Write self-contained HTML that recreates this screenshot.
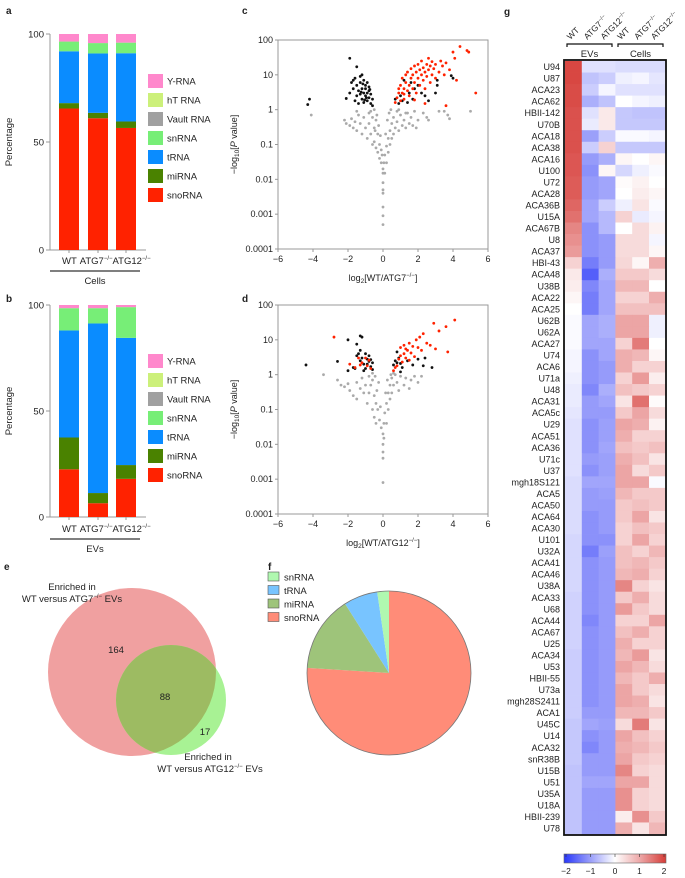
<!DOCTYPE html>
<html><head><meta charset="utf-8">
<style>
body{margin:0;background:#fff;width:685px;height:878px;overflow:hidden}
svg{display:block;font-family:"Liberation Sans",sans-serif}
text{fill:#222}
</style></head>
<body>
<svg id="fig" width="685" height="878" viewBox="0 0 685 878" xmlns="http://www.w3.org/2000/svg">
<g font-weight="bold" font-size="10">
<text x="6" y="14">a</text>
<text x="6" y="302">b</text>
<text x="242" y="14">c</text>
<text x="242" y="302">d</text>
<text x="4" y="570">e</text>
<text x="268" y="570">f</text>
<text x="504" y="15">g</text>
</g>
</svg>
<script>
const svg=document.getElementById('fig');
const NS='http://www.w3.org/2000/svg';
function mk(tag,attrs,parent,txt){const e=document.createElementNS(NS,tag);for(const k in attrs)e.setAttribute(k,attrs[k]);if(txt!==undefined)e.textContent=txt;(parent||svg).appendChild(e);return e;}

/* ---------- Stacked bars (a, b) ---------- */
const barCategories=['WT','ATG7','ATG12'];
const rnaTypes=['snoRNA','miRNA','tRNA','snRNA','Vault RNA','hT RNA','Y-RNA'];
const rnaColors=['#ff2200','#4a8200','#0a8cff','#77ee77','#a0a0a0','#ccf07a','#ff88cc'];
const cellsSnoRNA=[65.5,61,56.5];
const cellsMiRNA=[2.5,2.5,3];
const cellsTRNA=[24,27.5,31.6];
const cellsSnRNA=[4.5,4.8,4.9];
const cellsVault=[0,0,0];
const cellsHT=[0,0,0];
const cellsY=[3.5,4.2,4];
const evsSnoRNA=[22.5,6.5,18];
const evsMiRNA=[15,4.8,6.5];
const evsTRNA=[50.5,80,60];
const evsSnRNA=[10.5,7.2,14.5];
const evsVault=[0,0,0];
const evsHT=[0,0,0];
const evsY=[1.5,1.5,1];
const pctTicks=[0,50,100];

function barPanel(id,top,bottom,series,groupLabel,legTop,xlabY){
  const g=mk('g',{});
  
  
  const y=v=>bottom-(v/100)*(bottom-top);
  const xs=[59,88,116];
  mk('line',{x1:50,y1:top,x2:50,y2:bottom,stroke:'#999'},g);
  mk('line',{x1:50,y1:bottom,x2:146,y2:bottom,stroke:'#999'},g);
  pctTicks.forEach(t=>{
    mk('line',{x1:46,y1:y(t),x2:50,y2:y(t),stroke:'#999'},g);
    const tl=mk('text',{x:44,y:y(t)+3.5,'font-size':9.5,'text-anchor':'end'},g,String(t));
    
    
  });
  const yt=mk('text',{x:0,y:0,'font-size':9.5,'text-anchor':'middle',transform:`translate(12,${(top+bottom)/2}) rotate(-90)`},g,'Percentage');
  
  
  barCategories.forEach((c,i)=>{
    let cum=0;
    series.forEach((s,k)=>{
      const v=s[i];
      if(v>0){
        const r=mk('rect',{x:xs[i],y:y(cum+v),width:20,height:y(cum)-y(cum+v),fill:rnaColors[k]},g);
        
        
      }
      cum+=v;
    });
    mk('line',{x1:xs[i]+10,y1:bottom,x2:xs[i]+10,y2:bottom+3,stroke:'#999'},g);
  });
  const xl=mk('text',{x:62,y:xlabY,'font-size':9.5},g);
  
  
  xl.innerHTML='WT <tspan dx="1">ATG7</tspan><tspan font-size="6" dy="-4">−/−</tspan><tspan dy="4">ATG12</tspan><tspan font-size="6" dy="-4">−/−</tspan>';
  mk('line',{x1:50,y1:xlabY+7,x2:140,y2:xlabY+7,stroke:'#333','stroke-width':1.2},g);
  const gl=mk('text',{x:95,y:xlabY+20,'font-size':9.5,'text-anchor':'middle'},g,groupLabel);
  
  
  for(let k=6;k>=0;k--){
    const ly=legTop+(6-k)*19;
    const sq=mk('rect',{x:148,y:ly-7,width:15,height:14,fill:rnaColors[k]},g);
    
    
    const lt=mk('text',{x:167,y:ly+3.5,'font-size':9.5},g,rnaTypes[k]);
    
    
  }
}
barPanel('cells',34,250,[cellsSnoRNA,cellsMiRNA,cellsTRNA,cellsSnRNA,cellsVault,cellsHT,cellsY],'Cells',81,264);
barPanel('evs',305,517,[evsSnoRNA,evsMiRNA,evsTRNA,evsSnRNA,evsVault,evsHT,evsY],'EVs',361,532);

/* ---------- Volcano plots (c, d) ---------- */
const volcanoXTicks=[-6,-4,-2,0,2,4,6];
const volcanoYTicks=[0.0001,0.001,0.01,0.1,1,10,100];
const volcanoYTickLabels=['0.0001','0.001','0.01','0.1','1','10','100'];
const cGray=[[-4.1,0.7],[-2.2,0.5],[-2.1,0.4],[-1.9,0.35],[-1.8,0.55],[-1.7,0.3],[-1.6,0.45],[-1.5,0.25],[-1.4,0.7],[-1.3,0.4],[-1.2,0.2],[-1.1,0.6],[-1.0,0.3],[-0.9,0.15],[-0.8,0.8],[-0.8,0.4],[-0.7,0.2],[-0.6,0.1],[-0.6,0.6],[-0.5,0.3],[-0.5,0.12],[-0.4,0.08],[-0.4,0.5],[-0.3,0.2],[-0.3,0.06],[-0.2,0.1],[-0.2,0.04],[-0.1,0.07],[-0.1,0.03],[0,0.02],[0,0.015],[0,0.008],[0,0.005],[0,0.004],[0,0.0016],[0,0.0009],[0,0.0005],[0.05,0.03],[0.1,0.05],[0.1,0.015],[0.2,0.09],[0.2,0.03],[0.3,0.15],[0.3,0.06],[0.4,0.25],[0.4,0.1],[0.5,0.4],[0.5,0.15],[0.6,0.6],[0.6,0.2],[0.7,0.3],[0.8,0.9],[0.8,0.45],[0.9,0.25],[1.0,0.7],[1.1,0.35],[1.2,0.5],[1.3,0.3],[1.4,0.8],[1.5,0.4],[1.6,0.6],[1.7,0.35],[1.8,0.9],[1.9,0.3],[2.0,0.5],[2.3,0.8],[2.5,0.6],[2.6,0.5],[3.2,0.9],[3.5,0.9],[3.7,0.7],[3.8,0.55],[5.0,0.9],[-0.7,0.9],[-0.5,1.0],[-1.5,0.9],[0.9,1.0],[1.3,0.8],[-0.35,0.7],[-0.25,0.35],[0.15,0.2],[0.25,0.5],[-0.15,0.18],[-0.05,0.05],[0.35,0.8],[-0.45,0.25],[0.45,1.0]];
const cBlack=[[-4.3,1.4],[-4.2,2.0],[-1.9,30],[-1.5,17],[-2.1,2.1],[-1.9,3],[-1.8,6],[-1.7,4],[-1.6,8],[-1.5,2.5],[-1.5,5],[-1.4,3.5],[-1.4,1.5],[-1.3,9],[-1.3,6],[-1.2,4],[-1.2,2],[-1.1,7],[-1.1,3],[-1.1,1.6],[-1.0,5],[-1.0,2.5],[-1.0,4],[-0.9,3],[-0.9,1.8],[-0.9,6],[-0.8,2.2],[-0.8,3.5],[-0.7,1.5],[-0.7,2.8],[-0.6,2],[-0.6,1.3],[-1.6,1.8],[-1.7,7],[-1.2,10],[-0.8,4.5],[-1.3,2.8],[-1.05,1.9],[-1.25,3.2],[-0.95,2.2],[-0.75,3.8],[-1.15,5.5],[0.7,2],[0.9,1.5],[1.0,2.5],[1.1,1.8],[1.2,7],[1.4,1.6],[1.5,3],[1.6,6],[1.7,2],[1.8,4],[2.0,5],[2.2,3],[2.4,2.5],[2.6,1.8],[3.0,3],[3.1,7],[3.1,5],[3.9,9.5],[4.0,8]];
const cRed=[[0.7,1.6],[0.8,2.2],[0.9,3],[1.0,5],[1.0,1.8],[1.1,8],[1.1,3],[1.2,4],[1.2,2],[1.3,10],[1.3,6],[1.4,3.5],[1.4,12],[1.5,5],[1.5,2.5],[1.6,8],[1.6,15],[1.7,4],[1.7,10],[1.8,6],[1.8,18],[1.9,3],[1.9,12],[2.0,8],[2.0,20],[2.1,5],[2.1,14],[2.2,10],[2.2,25],[2.3,7],[2.3,16],[2.4,12],[2.4,4],[2.5,20],[2.5,9],[2.6,14],[2.6,30],[2.7,6],[2.7,18],[2.8,10],[2.8,24],[2.9,15],[3.0,8],[3.0,20],[3.2,12],[3.3,25],[3.4,18],[3.5,10],[3.6,22],[3.8,14],[4.0,45],[4.1,30],[4.2,7],[4.4,65],[4.8,50],[4.9,45],[5.3,3],[3.6,1.3],[2.4,1.5],[1.8,1.9],[1.2,2.8],[0.9,4]];
const dGray=[[-3.4,1.0],[-2.6,0.7],[-2.4,0.5],[-2.2,0.45],[-2.0,0.55],[-1.9,0.35],[-1.7,0.25],[-1.5,0.2],[-1.5,0.6],[-1.3,0.4],[-1.2,0.8],[-1.1,0.3],[-1.0,0.5],[-0.9,0.15],[-0.8,0.9],[-0.8,0.3],[-0.7,0.5],[-0.6,0.1],[-0.6,0.7],[-0.5,0.25],[-0.5,0.06],[-0.4,0.15],[-0.4,0.04],[-0.3,0.1],[-0.2,0.05],[-0.1,0.03],[0,0.02],[0,0.01],[0,0.006],[0,0.004],[0,0.0008],[0.05,0.04],[0.1,0.08],[0.2,0.15],[0.2,0.04],[0.3,0.3],[0.3,0.1],[0.4,0.5],[0.4,0.2],[0.5,0.8],[0.5,0.3],[0.6,0.5],[0.7,1.0],[0.8,0.6],[0.9,0.35],[1.0,0.9],[1.2,0.5],[1.3,0.8],[1.5,0.4],[1.6,0.7],[1.8,0.9],[2.0,0.6],[2.2,0.9],[-0.6,1.1],[0.6,1.1],[-0.35,0.35],[-0.25,0.6],[0.15,0.3],[0.25,0.7],[-0.15,0.12],[0.05,0.015],[-0.45,0.9],[0.45,1.0]];
const dBlack=[[-4.4,1.9],[-2.6,2.4],[-2.0,10],[-2.0,1.3],[-1.7,1.6],[-1.6,1.5],[-1.3,13],[-1.2,12],[-1.5,7.5],[-1.4,4],[-1.3,2.5],[-1.2,3],[-1.1,2],[-1.0,4],[-1.0,1.5],[-0.9,2.8],[-0.9,2],[-0.8,3.5],[-0.8,2.4],[-0.7,1.7],[-0.7,2.7],[-0.6,2.2],[-1.5,3.5],[-1.3,5],[-1.1,1.3],[-0.6,1.4],[0.6,1.9],[0.7,2.5],[0.8,2.2],[0.9,3],[1.0,2.1],[1.1,1.6],[1.4,2.5],[1.7,1.9],[2.0,2.8],[2.3,1.8],[2.4,3],[2.8,1.6],[1.0,1.2],[0.8,4.5]];
const dRed=[[-2.8,12],[-1.9,2],[-1.6,1.6],[-1.4,3],[-1.2,2.2],[-1.0,3],[-0.9,1.8],[-0.8,2.6],[-0.7,1.5],[-1.3,1.9],[0.6,1.3],[0.8,1.8],[0.9,2.8],[1.0,3.5],[1.0,6],[1.1,2.3],[1.2,4],[1.2,7],[1.3,3],[1.4,5],[1.5,2.6],[1.5,8],[1.6,4.2],[1.7,6.5],[1.8,3.3],[1.9,10],[2.0,6],[2.1,12],[2.2,5],[2.3,15],[2.5,8],[2.7,7],[2.9,30],[3.0,5.5],[3.2,18],[3.6,24],[3.7,4.5],[4.1,37],[1.3,5.5],[0.7,1.6]];

function volcano(id,top,bottom,gray,black,red,xTitle){
  const L=278,R=488;
  const g=mk('g',{});
  
  
  const x=v=>L+(v+6)/12*(R-L);
  const y=v=>bottom-(Math.log10(v)+4)/6*(bottom-top);
  mk('rect',{x:L,y:top,width:R-L,height:bottom-top,fill:'none',stroke:'#999'},g);
  volcanoXTicks.forEach(t=>{
    mk('line',{x1:x(t),y1:bottom,x2:x(t),y2:bottom+3,stroke:'#999'},g);
    const tl=mk('text',{x:x(t),y:bottom+13,'font-size':9,'text-anchor':'middle'},g,t<0?'−'+(-t):String(t));
    
    
  });
  volcanoYTicks.forEach((t,i)=>{
    mk('line',{x1:L-3,y1:y(t),x2:L,y2:y(t),stroke:'#999'},g);
    const tl=mk('text',{x:L-5,y:y(t)+3,'font-size':9,'text-anchor':'end'},g,volcanoYTickLabels[i]);
    
    
  });
  const yt=mk('text',{x:0,y:0,'font-size':9,'text-anchor':'middle',transform:`translate(237,${(top+bottom)/2}) rotate(-90)`},g);
  
  
  yt.innerHTML='−log<tspan font-size="6.5" dy="2">10</tspan><tspan dy="-2">[</tspan><tspan font-style="italic">P</tspan> value]';
  const xt=mk('text',{x:(L+R)/2,y:bottom+32,'font-size':9,'text-anchor':'middle'},g);
  
  
  xt.innerHTML='log<tspan font-size="6.5" dy="2">2</tspan><tspan dy="-2">[WT/'+xTitle+'</tspan><tspan font-size="6" dy="-4">−/−</tspan><tspan dy="4">]</tspan>';
  [[gray,'#aaaaaa','gray'],[black,'#111111','black'],[red,'#ff2200','red']].forEach(([pts,col,nm])=>{
    pts.forEach(p=>{
      const c=mk('circle',{cx:x(p[0]),cy:y(p[1]),r:1.4,fill:col},g);
      
      
    });
  });
}
volcano('c',40,249,cGray,cBlack,cRed,'ATG7');
volcano('d',305,514,dGray,dBlack,dRed,'ATG12');

/* ---------- Venn (e) ---------- */
const vennCounts=[164,88,17];
(function(){
  const g=mk('g',{});
  
  
  const defs=mk('defs',{},g);
  const cp=mk('clipPath',{id:'vennclip'},defs);
  mk('circle',{cx:171,cy:700,r:55},cp);
  const a=mk('circle',{cx:132,cy:672,r:84,fill:'#f0a0a0'},g);
  
  
  const b=mk('circle',{cx:171,cy:700,r:55,fill:'#a8f294'},g);
  
  
  const ov=mk('circle',{cx:132,cy:672,r:84,fill:'#9dbb62','clip-path':'url(#vennclip)'},g);
  
  
  [[116,653,0],[165,700,1],[205,735,2]].forEach(([x,y,i])=>{
    const t=mk('text',{x:x,y:y,'font-size':9.5,'text-anchor':'middle'},g,String(vennCounts[i]));
    
    
  });
  const t1=mk('text',{x:72,y:590,'font-size':9.5,'text-anchor':'middle'},g,'Enriched in');
  
  
  const t2=mk('text',{x:72,y:602,'font-size':9.5,'text-anchor':'middle'},g);
  
  
  t2.innerHTML='WT versus ATG7<tspan font-size="6" dy="-4">−/−</tspan><tspan dy="4"> EVs</tspan>';
  const t3=mk('text',{x:208,y:760,'font-size':9.5,'text-anchor':'middle'},g,'Enriched in');
  
  
  const t4=mk('text',{x:210,y:772,'font-size':9.5,'text-anchor':'middle'},g);
  
  
  t4.innerHTML='WT versus ATG12<tspan font-size="6" dy="-4">−/−</tspan><tspan dy="4"> EVs</tspan>';
})();

/* ---------- Pie (f) ---------- */
const pieLabels=['snoRNA','miRNA','tRNA','snRNA'];
const pieValues=[76,15,6.7,2.3];
const pieColors=['#ff8c78','#9ec47a','#78c4ff','#b0f8b0'];
(function(){
  const g=mk('g',{});
  
  
  const cx=389,cy=673,r=82;
  const tot=pieValues.reduce((a,b)=>a+b,0);
  let ang=0;
  pieValues.forEach((v,i)=>{
    const a0=ang/tot*2*Math.PI, a1=(ang+v)/tot*2*Math.PI; ang+=v;
    const p=(a)=>[cx+r*Math.sin(a),cy-r*Math.cos(a)];
    const [x0,y0]=p(a0),[x1,y1]=p(a1);
    const s=mk('path',{d:`M${cx},${cy}L${x0},${y0}A${r},${r} 0 ${a1-a0>Math.PI?1:0} 1 ${x1},${y1}Z`,fill:pieColors[i]},g);
    
    
  });
  mk('circle',{cx:cx,cy:cy,r:r,fill:'none',stroke:'#777','stroke-width':0.8},g);
  for(let i=3;i>=0;i--){
    const ly=577+(3-i)*13.5;
    const sq=mk('rect',{x:268,y:ly-5,width:11,height:9,fill:pieColors[i],stroke:'#555','stroke-width':0.6},g);
    
    
    const t=mk('text',{x:284,y:ly+3.5,'font-size':9.5},g,pieLabels[i]);
    
    
  }
})();

/* ---------- Heatmap (g) ---------- */
const heatRows=['U94','U87','ACA23','ACA62','HBII-142','U70B','ACA18','ACA38','ACA16','U100','U72','ACA28','ACA36B','U15A','ACA67B','U8','ACA37','HBI-43','ACA48','U38B','ACA22','ACA25','U62B','U62A','ACA27','U74','ACA6','U71a','U48','ACA31','ACA5c','U29','ACA51','ACA36','U71c','U37','mgh18S121','ACA5','ACA50','ACA64','ACA30','U101','U32A','ACA41','ACA46','U38A','ACA33','U68','ACA44','ACA67','U25','ACA34','U53','HBII-55','U73a','mgh28S2411','ACA1','U45C','U14','ACA32','snR38B','U15B','U51','U35A','U18A','HBII-239','U78'];
const heatCols=['WT','ATG7','ATG12','WT','ATG7','ATG12'];
const heatValues=[
[1.9,-0.3,-0.3,-0.35,-0.35,-0.35],[1.9,-0.6,-0.5,-0.15,-0.1,-0.25],[1.85,-0.5,-0.1,-0.3,-0.3,-0.3],[1.85,-0.8,-0.6,0,-0.1,-0.15],
[1.8,-0.3,0.25,-0.55,-0.6,-0.6],[1.8,-0.2,0.25,-0.55,-0.55,-0.55],[1.8,-0.95,-0.5,-0.05,-0.05,-0.1],[1.8,-0.5,0.5,-0.55,-0.55,-0.55],
[1.75,-1.0,-0.8,0.1,0,0.1],[1.75,-1.1,0.1,-0.4,-0.15,-0.05],[1.7,-1.0,-0.9,0.05,0.15,0],[1.7,-1.0,-0.9,0,0.2,0.1],
[1.6,-0.9,-0.5,-0.15,0.3,-0.05],[1.5,-0.9,-0.7,0.5,-0.2,-0.1],[1.3,-1.1,-0.7,0,0.4,0.15],[1.2,-1.1,-1.0,0.4,0.4,-0.1],
[1.1,-1.1,-1.0,0.4,0.4,0.1],[0.5,-1.3,-1.0,0.45,0.1,0.9],[0.25,-1.6,-0.8,0.6,0.6,0.4],[0.2,-1.2,-0.9,0.8,0.8,0],
[0.1,-1.3,-0.9,0.5,0.5,0.9],[0,-1.3,-0.9,0.7,0.7,0.7],[-0.05,-0.9,-0.8,1.0,1.0,-0.15],[-0.05,-0.9,-0.8,1.0,1.0,-0.15],
[-0.05,-0.9,-0.9,0.5,1.4,0],[-0.1,-1.1,-0.9,0.9,0.8,0.1],[-0.1,-1.1,-1.0,0.9,0.5,0.5],[-0.15,-1.1,-1.0,0.5,1.1,0.2],
[-0.2,-1.2,-0.8,0.7,0.6,0.5],[-0.2,-1.0,-0.9,0.3,1.5,0.05],[-0.25,-1.0,-1.0,0.6,1.0,0.4],[-0.3,-1.1,-0.95,1.0,0.9,0.15],
[-0.3,-1.1,-0.95,0.9,0.5,0.5],[-0.3,-1.1,-0.9,0.7,0.6,0.7],[-0.3,-1.0,-0.95,0.9,0.7,0.3],[-0.3,-1.1,-0.95,1.0,0.4,0.6],
[-0.35,-0.9,-0.9,1.0,1.0,-0.05],[-0.35,-1.0,-0.95,0.8,0.6,0.6],[-0.35,-1.0,-1.0,0.6,0.7,0.6],[-0.35,-1.1,-1.0,0.6,1.0,0.3],
[-0.35,-1.1,-1.0,0.5,0.7,0.6],[-0.4,-1.1,-1.1,0.5,1.0,0.5],[-0.4,-1.3,-0.95,0.7,0.5,0.8],[-0.4,-1.1,-1.0,0.7,0.8,0.6],
[-0.4,-1.1,-1.0,0.8,0.9,0.5],[-0.4,-1.1,-1.0,1.3,0.5,0.3],[-0.45,-1.1,-1.0,0.6,0.9,0.4],[-0.45,-1.1,-1.0,1.1,0.6,0.4],
[-0.45,-1.2,-1.0,0.5,0.5,1.0],[-0.45,-1.1,-1.0,0.7,0.9,0.5],[-0.45,-1.1,-1.0,0.9,0.5,0.5],[-0.5,-1.1,-1.0,0.8,1.1,0.3],
[-0.5,-1.1,-1.0,1.0,0.8,0.4],[-0.5,-1.1,-1.0,0.8,0.6,0.9],[-0.5,-1.1,-1.0,1.0,0.6,0.4],[-0.5,-1.1,-1.0,1.0,0.9,0.3],
[-0.5,-1.0,-1.0,0.8,0.8,0.6],[-0.55,-0.9,-0.95,0.4,1.4,0.3],[-0.55,-1.1,-1.0,1.0,0.7,0.5],[-0.55,-1.2,-1.0,0.9,0.8,0.6],
[-0.55,-1.0,-1.0,1.0,0.6,0.5],[-0.6,-1.0,-1.0,1.3,0.5,0.4],[-0.6,-0.9,-0.9,1.0,1.0,0.4],[-0.6,-1.0,-1.0,1.2,0.5,0.4],
[-0.6,-1.0,-1.0,1.2,0.5,0.4],[-0.6,-1.0,-1.0,0.2,1.2,0.6],[-0.6,-1.0,-1.0,0.9,0.3,0.8]];
const colorbarTicks=[-2,-1,0,1,2];
const stops=[[-2,[40,55,250]],[-1,[150,155,250]],[0,[255,255,255]],[1,[236,165,165]],[2,[214,60,55]]];
function cmap(v){
  v=Math.max(-2,Math.min(2,v));
  for(let i=0;i<stops.length-1;i++){
    const [a,ca]=stops[i],[b,cb]=stops[i+1];
    if(v<=b){const t=(v-a)/(b-a);return 'rgb('+ca.map((c,k)=>Math.round(c+(cb[k]-c)*t)).join(',')+')';}
  }
}
(function(){
  const g=mk('g',{});
  
  
  const L=565,cw=16.8,T=61,rh=(834-61)/heatRows.length;
  heatRows.forEach((rn,i)=>{
    heatValues[i].forEach((v,j)=>{
      const c=mk('rect',{x:L+j*cw,y:T+i*rh,width:cw+0.4,height:rh+0.4,fill:cmap(v)},g);
      
      
    });
    const t=mk('text',{x:560,y:T+i*rh+rh/2+3.3,'font-size':9,'text-anchor':'end'},g,rn);
    
    
  });
  mk('rect',{x:564,y:60,width:102,height:775,fill:'none',stroke:'#111','stroke-width':1.8},g);
  heatCols.forEach((cn,j)=>{
    const cx=L+j*cw+cw/2;
    const t=mk('text',{x:0,y:0,'font-size':8.5,transform:`translate(${cx-3},${40}) rotate(-45)`},g);
    
    
    t.innerHTML=cn==='WT'?'WT':cn+'<tspan font-size="5.5" dy="-3.5">−/−</tspan>';
  });
  [[567,612,'EVs'],[618,663,'Cells']].forEach(([a,b,lab])=>{
    mk('path',{d:`M${a},47V44H${b}V47`,fill:'none',stroke:'#111','stroke-width':1.2},g);
    const t=mk('text',{x:(a+b)/2,y:57,'font-size':9.5,'text-anchor':'middle'},g,lab);
    
    
  });
  const defs=mk('defs',{},g);
  const lg=mk('linearGradient',{id:'cb',x1:0,x2:1,y1:0,y2:0},defs);
  stops.forEach(([v,c])=>mk('stop',{offset:((v+2)/4*100)+'%','stop-color':'rgb('+c.join(',')+')'},lg));
  const cb=mk('rect',{x:564,y:854,width:102,height:9,fill:'url(#cb)',stroke:'#666','stroke-width':0.6},g);
  
  
  colorbarTicks.forEach(t=>{
    const x=566+(t+2)/4*98;
    mk('line',{x1:x,y1:854,x2:x,y2:857,stroke:'#333','stroke-width':0.6},g);
    const tl=mk('text',{x:x,y:874,'font-size':8.5,'text-anchor':'middle'},g,t<0?'−'+(-t):String(t));
    
    
  });
})();
</script>
</body></html>
